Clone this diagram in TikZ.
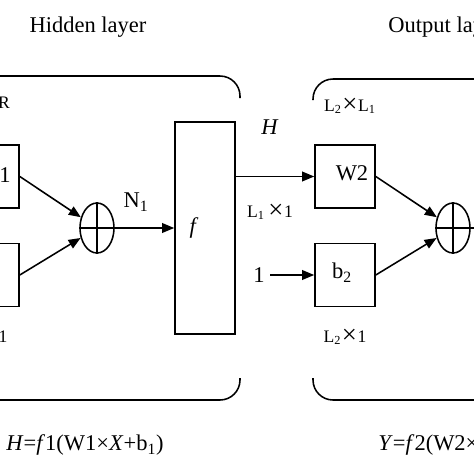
\documentclass[tikz,border=0pt]{standalone}
\usepackage{fontspec}
\setmainfont{Liberation Serif}
\usetikzlibrary{shapes.geometric,arrows.meta}
\newcommand{\bigx}{\kern0.5pt\raisebox{-1.2pt}{\fontsize{19}{19}\selectfont ×}\kern0.5pt}

\begin{document}
\begin{tikzpicture}[x=0.025cm,y=-0.025cm,line width=1.1pt,
  font=\fontsize{16}{18}\selectfont,
  box/.style={draw,rectangle,minimum width=1.5cm,minimum height=1.575cm,inner sep=0pt},
  sum/.style={draw,ellipse,minimum width=0.85cm,minimum height=1.25cm,inner sep=0pt},
  lbl/.style={font=\fontsize{12.5}{14}\selectfont},
  arr/.style={-{Triangle[length=0.3cm,width=0.24cm]}}]
\useasboundingbox (0,0) rectangle (474,474);
\clip (0,0) rectangle (474,474);
\node[box] (w1) at (-11,176.5) {};
\node[box] (b1) at (-11,275) {};
\node[sum] (s1) at (97,228) {};
\draw (s1.north) -- (s1.south) (s1.west) -- (s1.east);
\node[draw,minimum width=1.5cm,minimum height=5.3cm,inner sep=0pt] (f) at (205,228) {};
\node[box] (w2) at (345,176.5) {};
\node[box] (b2) at (345,275) {};
\node[sum] (s2) at (453,228) {};
\draw (s2.north) -- (s2.south) (s2.west) -- (s2.east);
\coordinate (out) at (480,228);
\node (one) at (259,275) {1};
\draw[arr] (w1.east) -- (s1);
\draw[arr] (b1.east) -- (s1);
\draw[arr] (s1.east) -- (f.west |- s1.east);
\draw[arr] (f.east |- w2.west) -- (w2.west);
\draw[arr] (one.east) -- (b2.west |- one.east);
\draw[arr] (w2.east) -- (s2);
\draw[arr] (b2.east) -- (s2);
\draw (s2.east) -- (out);
\draw[rounded corners=0.5cm] (-10,76) -| (240,98);
\draw[rounded corners=0.5cm] (240,378) |- (-10,400);
\draw[rounded corners=0.5cm] (480,79) -| (313,100);
\draw[rounded corners=0.5cm] (313,378) |- (480,400);
\node (hid) at (88,27) {Hidden layer};
\node[anchor=west] (outl) at (383,27) {Output layer};
\node[lbl] (r) at (4,103) {R};
\node (w1l) at (5,175) {1};
\node[lbl] (l1) at (3,337) {1};
\node (n1) at (136,202) {N\textsubscript{1}};
\node (fl) at (194,228) {\textit{f}};
\node (h) at (270,127) {\textit{H}};
\node[lbl] (l1x1) at (270,212) {L\textsubscript{1}\,\bigx1};
\node (w2l) at (352,173) {W2};
\node (b2l) at (342,273) {b\textsubscript{2}};
\node[lbl] (l2x1) at (345,337) {L\textsubscript{2}\bigx1};
\node[lbl] (l2l1) at (350,106) {L\textsubscript{2}\bigx L\textsubscript{1}};
\node (hf) at (85,445) {\textit{H}=\textit{f}1(W1×\textit{X}+b\textsubscript{1})};
\node[anchor=west] (yf) at (373,445) {\textit{Y}=\textit{f}2(W2×\textit{H}+b\textsubscript{2})};
\end{tikzpicture}
\end{document}
